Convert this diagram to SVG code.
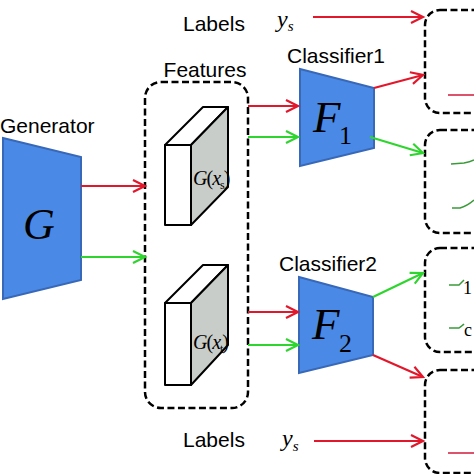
<svg xmlns="http://www.w3.org/2000/svg" width="474" height="474" viewBox="0 0 474 474">
<style>
.sans{font-family:"Liberation Sans",Arial,sans-serif;font-size:21px;fill:#000}
.ser{font-family:"Liberation Serif","Times New Roman",serif;fill:#000}
.it{font-style:italic}
.blk{fill:#4a8ae6;stroke:#3868b8;stroke-width:2}
.dash{fill:none;stroke:#000;stroke-width:2.5;stroke-dasharray:7 3.5}
.r{stroke:#e3172b;stroke-width:2.2;fill:none}
.g{stroke:#2fd52f;stroke-width:2.2;fill:none}
.gl{stroke:#3a9a3a;stroke-width:1.5;fill:none}
.rl{stroke:#d21a3a;stroke-width:1.5;fill:none}
.face{stroke:#000;stroke-width:2;stroke-linejoin:round}
</style>
<defs>
<marker id="ar" markerUnits="userSpaceOnUse" markerWidth="16" markerHeight="16" refX="13" refY="8" orient="auto"><path d="M1,2 L13,8 L1,14" fill="none" stroke="#e3172b" stroke-width="2.2"/></marker>
<marker id="ag" markerUnits="userSpaceOnUse" markerWidth="16" markerHeight="16" refX="13" refY="8" orient="auto"><path d="M1,2 L13,8 L1,14" fill="none" stroke="#2fd52f" stroke-width="2.2"/></marker>
</defs>
<rect width="474" height="474" fill="#fff"/>

<g id="generator">
<text class="sans" x="0" y="133">Generator</text>
<polygon class="blk" points="3,138 81,157 81,280 3,299"/>
<text class="ser it" x="39" y="239" font-size="44" text-anchor="middle">G</text>
</g>

<g id="features">
<text class="sans" x="205" y="77" text-anchor="middle">Features</text>
<rect class="dash" x="145" y="82" width="103" height="326" rx="16"/>
<g id="feat-s">
<polygon class="face" fill="#fff" points="165,145 203,107 228,107 191,145"/>
<polygon class="face" fill="#c8cdc9" points="191,145 228,107 228,187 191,225"/>
<rect class="face" fill="#fff" x="165" y="145" width="26" height="80"/>
<text class="ser" x="193" y="185" font-size="20" letter-spacing="-1"><tspan class="it">G</tspan>(<tspan class="it">x</tspan><tspan font-size="12" dy="4">s</tspan><tspan dy="-4">)</tspan></text>
</g>
<g id="feat-t">
<polygon class="face" fill="#fff" points="165,303 203,265 228,265 191,303"/>
<polygon class="face" fill="#c8cdc9" points="191,303 228,265 228,345 191,385"/>
<rect class="face" fill="#fff" x="165" y="303" width="26" height="82"/>
<text class="ser" x="193" y="349" font-size="20" letter-spacing="-1"><tspan class="it">G</tspan>(<tspan class="it">x</tspan><tspan font-size="12" dy="4">t</tspan><tspan dy="-4">)</tspan></text>
</g>
</g>

<g id="classifier1">
<text class="sans" x="336" y="63" text-anchor="middle">Classifier1</text>
<polygon class="blk" points="300,69 374,88 374,148 300,166"/>
<text class="ser it" x="313" y="132" font-size="45">F</text>
<text class="ser" x="339" y="144" font-size="26">1</text>
</g>

<g id="classifier2">
<text class="sans" x="328" y="271" text-anchor="middle">Classifier2</text>
<polygon class="blk" points="299,277 373,297 373,355 299,373"/>
<text class="ser it" x="312" y="339" font-size="45">F</text>
<text class="ser" x="339" y="352" font-size="26">2</text>
</g>

<g id="labels-top">
<text class="sans" x="183" y="31">Labels</text>
<text class="ser" x="277" y="27"><tspan class="it" font-size="24">y</tspan><tspan class="it" font-size="15" dy="4">s</tspan></text>
</g>
<g id="labels-bottom">
<text class="sans" x="183" y="447">Labels</text>
<text class="ser" x="282" y="446"><tspan class="it" font-size="24">y</tspan><tspan class="it" font-size="15" dy="5">s</tspan></text>
</g>

<g id="out-boxes">
<rect class="dash" x="425" y="10" width="80" height="103" rx="15"/>
<rect class="dash" x="425" y="130" width="80" height="103" rx="15"/>
<rect class="dash" x="425" y="248" width="80" height="104" rx="15"/>
<rect class="dash" x="425" y="370" width="80" height="103" rx="15"/>
<path class="rl" d="M448,95 L474,95"/>
<path class="gl" d="M451,164 L464,163 Q470,162 474,160"/>
<path class="gl" d="M452,208 L460,208 Q467,206 474,200"/>
<path class="gl" d="M449,285 L459,285 Q463,281 464,280"/>
<path class="gl" d="M449,328 L459,328 Q463,325 464,324"/>
<path class="rl" d="M448,453 L474,453"/>
<text class="ser" x="463" y="294" font-size="18">1</text>
<text class="ser" x="464" y="336" font-size="18">c</text>
</g>

<g id="connectors">
<line class="r" x1="81" y1="186" x2="145" y2="186" marker-end="url(#ar)"/>
<line class="g" x1="81" y1="257" x2="145" y2="257" marker-end="url(#ag)"/>
<line class="r" x1="248" y1="106" x2="298" y2="106" marker-end="url(#ar)"/>
<line class="g" x1="248" y1="137" x2="298" y2="137" marker-end="url(#ag)"/>
<line class="r" x1="248" y1="312" x2="298" y2="312" marker-end="url(#ar)"/>
<line class="g" x1="248" y1="345" x2="298" y2="345" marker-end="url(#ag)"/>
<line class="r" x1="313" y1="17" x2="423" y2="17" marker-end="url(#ar)"/>
<line class="r" x1="374" y1="88" x2="423" y2="75" marker-end="url(#ar)"/>
<line class="g" x1="370" y1="137" x2="423" y2="153" marker-end="url(#ag)"/>
<line class="g" x1="373" y1="297" x2="423" y2="273" marker-end="url(#ag)"/>
<line class="r" x1="373" y1="355" x2="423" y2="377" marker-end="url(#ar)"/>
<line class="r" x1="314" y1="441" x2="423" y2="441" marker-end="url(#ar)"/>
</g>
</svg>
